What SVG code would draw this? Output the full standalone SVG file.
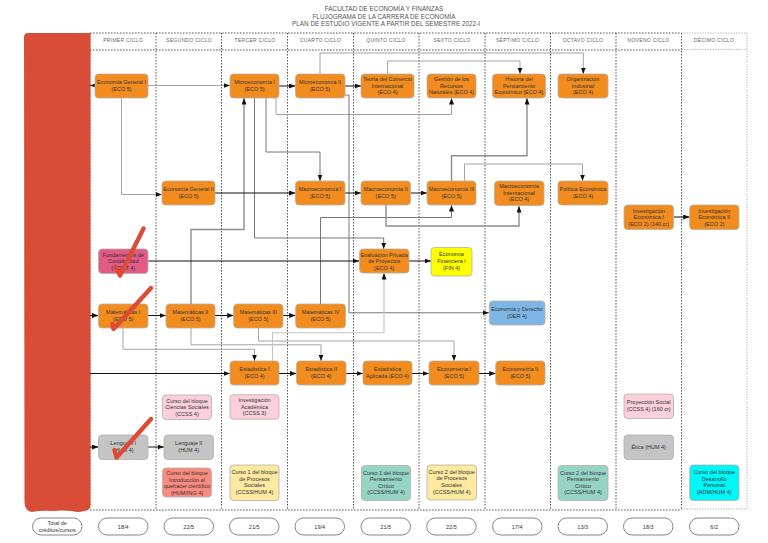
<svg xmlns="http://www.w3.org/2000/svg" width="768" height="543" viewBox="0 0 768 543">
<style>
text{font-family:"Liberation Sans",Arial,sans-serif;text-anchor:middle;fill:#333}
.t{font-size:5.5px}
.h{font-size:5px;letter-spacing:.3px;fill:#666}
.ti{font-size:6.4px;fill:#555}
rect{stroke:#b5b0a5;stroke-width:.8}
.o{fill:#f28c1e}.p{fill:#fbcfdc}.s{fill:#c4c4c4}.r{fill:#fb8a80}.y{fill:#fde9a0}.te{fill:#96d5c6}.c{fill:#00f7f7}.b{fill:#7db6e4}.f{fill:#ffff00}.m{fill:#e25a86}
.tot{fill:#fff;stroke:#666;stroke-width:.8}
.d{stroke:#333;stroke-width:.8;stroke-dasharray:1.6 1.4;fill:none}
.d2{stroke:#999;stroke-width:.8;stroke-dasharray:1.2 1.4;fill:none}
#connectors path{fill:none;marker-end:url(#a)}
.k{stroke:#111;stroke-width:1}
.a{stroke:#9a9a9a;stroke-width:.9}
.w{stroke:#8c8c8c;stroke-width:1.4}
.e{stroke:#666;stroke-width:.9}
.l{stroke:#c4c4c4;stroke-width:1.1}
.ck{fill:none;stroke:#dd4a36;stroke-width:4.4;stroke-linecap:round;stroke-linejoin:round}
</style>
<defs><marker id="a" markerUnits="userSpaceOnUse" markerWidth="7" markerHeight="6" refX="6.5" refY="2.5" orient="auto"><path d="M0 0L6.5 2.500L0 5Z" fill="#111"/></marker></defs>

<g id="title">
<text class="ti" x="384" y="11">FACULTAD DE ECONOMÍA Y FINANZAS</text>
<text class="ti" x="384" y="18.500">FLUJOGRAMA DE LA CARRERA DE ECONOMÍA</text>
<text class="ti" x="386" y="26">PLAN DE ESTUDIO VIGENTE A PARTIR DEL SEMESTRE 2022-I</text>
</g>

<g id="grid">
<path class="d" d="M90 33H681.500M90 50H681.500M90 510H681.500M90 33V510M156 33V510M221.500 33V510M287.500 33V510M353.500 33V510M419 33V510M485 33V510M550.500 33V510M616 33V510M681.500 33V510"/>
<path class="d2" d="M681.500 33H747V509H681.500M681.500 49.500H747"/>
<text class="h" x="123" y="42">PRIMER CICLO</text>
<text class="h" x="189" y="42">SEGUNDO CICLO</text>
<text class="h" x="255" y="42">TERCER CICLO</text>
<text class="h" x="320.500" y="42">CUARTO CICLO</text>
<text class="h" x="386" y="42">QUINTO CICLO</text>
<text class="h" x="452" y="42">SEXTO CICLO</text>
<text class="h" x="517.500" y="42">SÉPTIMO CICLO</text>
<text class="h" x="583" y="42">OCTAVO CICLO</text>
<text class="h" x="648.500" y="42">NOVENO CICLO</text>
<text class="h" x="714" y="42">DÉCIMO CICLO</text>
</g>

<path id="redaction" fill="#d94c38" d="M24 37Q24 33 28 33H90.500V505Q90 511 84 511Q78 513 72 511Q62 510 52 511Q42 510 32 512Q25 511 24.500 503Z"/>

<g id="connectors">
<path class="k" d="M95 85.500H90"/>
<path class="k" d="M90 315.500H98.500"/>
<path class="k" d="M90 447H98.500"/>
<path class="a" d="M148 85.500H230"/>
<path class="a" d="M121.500 98V194.500H162"/>
<path class="k" d="M279 86H295.500"/>
<path class="k" d="M345 86H361"/>
<path class="a" d="M320 74V53H583.300V74"/>
<path class="a" d="M387.500 74V61H520V74"/>
<path class="a" d="M276 98V114.500H451.500V98"/>
<path class="e" d="M266 98V152H320V181"/>
<path class="e" d="M254.500 98V238H383.700V249"/>
<path class="w" d="M191 304V229.500H244V98"/>
<path class="e" d="M345 95H349V312.800H489"/>
<path class="k" d="M215 193H295.500"/>
<path class="k" d="M345 193H361"/>
<path class="k" d="M410.500 193H427"/>
<path class="w" d="M451.500 181V155.700H527V98"/>
<path class="a" d="M464.500 181V164H582.500V181"/>
<path class="e" d="M320.500 304V217.500H451.500V205"/>
<path class="w" d="M386 205V226H519V206"/>
<path class="k" d="M148 261H359"/>
<path class="k" d="M409 261H431"/>
<path class="k" d="M148 315.500H166"/>
<path class="k" d="M215 315.500H233.700"/>
<path class="k" d="M283 315.500H295.700"/>
<path class="a" d="M123 328V349.300H254.500V361"/>
<path class="a" d="M191 328V344.800H321V361"/>
<path class="a" d="M258.500 328V341H454V361"/>
<path class="l" d="M272.500 361V332.700H384V273"/>
<path class="k" d="M90 373.500H230"/>
<path class="k" d="M279 373.500H296.500"/>
<path class="k" d="M346 373.500H363"/>
<path class="k" d="M412 373.500H429"/>
<path class="k" d="M479 373.500H495.700"/>
<path class="k" d="M148 447H164"/>
<path class="k" d="M673.500 217H689.700"/>
</g>

<g id="eco-general-1"><rect class="o" x="95" y="74" width="53" height="24" rx="3.500"/><text class="t" x="121.500" y="84">Economía General I</text><text class="t" x="121.500" y="90.500">(ECO 5)</text></g>
<g id="micro-1"><rect class="o" x="230" y="74" width="49" height="24" rx="3.500"/><text class="t" x="254.500" y="84">Microeconomía I</text><text class="t" x="254.500" y="90.500">(ECO 5)</text></g>
<g id="micro-2"><rect class="o" x="295.500" y="74" width="49.500" height="24" rx="3.500"/><text class="t" x="320" y="84">Microeconomía II</text><text class="t" x="320" y="90.500">(ECO 5)</text></g>
<g id="teoria-comercio"><rect class="o" x="361" y="74" width="53" height="24" rx="3.500"/><text class="t" x="387.500" y="81">Teoría del Comercio</text><text class="t" x="387.500" y="87.700">Internacional</text><text class="t" x="387.500" y="94.200">(ECO 4)</text></g>
<g id="gestion-recursos"><rect class="o" x="427" y="74" width="49" height="24" rx="3.500"/><text class="t" x="451.500" y="81">Gestión de los</text><text class="t" x="451.500" y="87.700">Recursos</text><text class="t" x="451.500" y="94.200">Naturales (ECO 4)</text></g>
<g id="historia-pensamiento"><rect class="o" x="492.500" y="74" width="53" height="24" rx="3.500"/><text class="t" x="519" y="81">Historia del</text><text class="t" x="519" y="87.700">Pensamiento</text><text class="t" x="519" y="94.200">Económico (ECO 4)</text></g>
<g id="organizacion-industrial"><rect class="o" x="558" y="74" width="50" height="24" rx="3.500"/><text class="t" x="583" y="81">Organización</text><text class="t" x="583" y="87.700">Industrial</text><text class="t" x="583" y="94.200">(ECO 4)</text></g>

<g id="eco-general-2"><rect class="o" x="162" y="181" width="53" height="24" rx="3.500"/><text class="t" x="188.500" y="191">Economía General II</text><text class="t" x="188.500" y="197.500">(ECO 5)</text></g>
<g id="macro-1"><rect class="o" x="295.500" y="181" width="49.500" height="24" rx="3.500"/><text class="t" x="320" y="191">Macroeconomía I</text><text class="t" x="320" y="197.500">(ECO 5)</text></g>
<g id="macro-2"><rect class="o" x="361" y="181" width="49.500" height="24" rx="3.500"/><text class="t" x="385.700" y="191">Macroeconomía II</text><text class="t" x="385.700" y="197.500">(ECO 5)</text></g>
<g id="macro-3"><rect class="o" x="427" y="181" width="49" height="24" rx="3.500"/><text class="t" x="451.500" y="191">Macroeconomía III</text><text class="t" x="451.500" y="197.500">(ECO 5)</text></g>
<g id="macro-internacional"><rect class="o" x="494.500" y="181" width="49.500" height="24.500" rx="3.500"/><text class="t" x="519" y="188">Macroeconomía</text><text class="t" x="519" y="194.500">Internacional</text><text class="t" x="519" y="201">(ECO 4)</text></g>
<g id="politica-economica"><rect class="o" x="558" y="181" width="50" height="24" rx="3.500"/><text class="t" x="583" y="191">Política Económica</text><text class="t" x="583" y="197.500">(ECO 4)</text></g>
<g id="investigacion-1"><rect class="o" x="624" y="205" width="49.500" height="24.500" rx="3.500"/><text class="t" x="648.700" y="212.500">Investigación</text><text class="t" x="648.700" y="219">Económica I</text><text class="t" x="648.700" y="225.500">(ECO 2) (140 cr)</text></g>
<g id="investigacion-2"><rect class="o" x="689.700" y="205" width="49.300" height="24.500" rx="3.500"/><text class="t" x="714.300" y="212.500">Investigación</text><text class="t" x="714.300" y="219">Económica II</text><text class="t" x="714.300" y="225.500">(ECO 2)</text></g>

<g id="fundamentos"><rect class="m" x="98.500" y="249" width="49.500" height="24.500" rx="3.500"/><text class="t" x="123.200" y="256.500">Fundamentos de</text><text class="t" x="123.200" y="263">Contabilidad</text><text class="t" x="123.200" y="269.500">(CONT 4)</text></g>
<g id="evaluacion-privada"><rect class="o" x="359.500" y="249" width="49.500" height="24" rx="3.500"/><text class="t" x="384.200" y="256.500">Evaluación Privada</text><text class="t" x="384.200" y="263">de Proyectos</text><text class="t" x="384.200" y="269.500">(ECO 4)</text></g>
<g id="economia-financiera"><rect class="f" x="431" y="247.500" width="41" height="28.500" rx="3.500"/><text class="t" x="451.500" y="256">Economía</text><text class="t" x="451.500" y="263">Financiera I</text><text class="t" x="451.500" y="269.500">(FIN 4)</text></g>

<g id="mate-1"><rect class="o" x="98.500" y="304" width="49.500" height="24" rx="3.500"/><text class="t" x="123.200" y="314">Matemáticas I</text><text class="t" x="123.200" y="320.500">(ECO 5)</text></g>
<g id="mate-2"><rect class="o" x="166" y="304" width="49" height="24" rx="3.500"/><text class="t" x="190.500" y="314">Matemáticas II</text><text class="t" x="190.500" y="320.500">(ECO 5)</text></g>
<g id="mate-3"><rect class="o" x="233.700" y="304" width="49.300" height="24" rx="3.500"/><text class="t" x="258.300" y="314">Matemáticas III</text><text class="t" x="258.300" y="320.500">(ECO 5)</text></g>
<g id="mate-4"><rect class="o" x="295.700" y="304" width="49.800" height="24" rx="3.500"/><text class="t" x="320.600" y="314">Matemáticas IV</text><text class="t" x="320.600" y="320.500">(ECO 5)</text></g>
<g id="economia-derecho"><rect class="b" x="489.300" y="301" width="55.700" height="24" rx="3.500"/><text class="t" x="517" y="311">Economía y Derecho</text><text class="t" x="517" y="317.500">(DER 4)</text></g>

<g id="estadistica-1"><rect class="o" x="230" y="361" width="49" height="24" rx="3.500"/><text class="t" x="254.500" y="371">Estadística I</text><text class="t" x="254.500" y="377.500">(ECO 4)</text></g>
<g id="estadistica-2"><rect class="o" x="296.500" y="361" width="49.500" height="24" rx="3.500"/><text class="t" x="321.200" y="371">Estadística II</text><text class="t" x="321.200" y="377.500">(ECO 4)</text></g>
<g id="estadistica-aplicada"><rect class="o" x="363" y="361" width="49" height="24" rx="3.500"/><text class="t" x="387.500" y="371">Estadística</text><text class="t" x="387.500" y="377.500">Aplicada (ECO 4)</text></g>
<g id="econometria-1"><rect class="o" x="429" y="361" width="50" height="24" rx="3.500"/><text class="t" x="454" y="371">Econometría I</text><text class="t" x="454" y="377.500">(ECO 5)</text></g>
<g id="econometria-2"><rect class="o" x="495.700" y="361" width="49.300" height="24" rx="3.500"/><text class="t" x="520.300" y="371">Econometría II</text><text class="t" x="520.300" y="377.500">(ECO 5)</text></g>

<g id="bloque-ciencias"><rect class="p" x="162.500" y="395" width="49" height="24.500" rx="3.500"/><text class="t" x="187" y="402.500">Curso del bloque</text><text class="t" x="187" y="409">Ciencias Sociales</text><text class="t" x="187" y="415.500">(CCSS 4)</text></g>
<g id="investigacion-academica"><rect class="p" x="230" y="394.700" width="49" height="24.500" rx="3.500"/><text class="t" x="254.500" y="402">Investigación</text><text class="t" x="254.500" y="408.500">Académica</text><text class="t" x="254.500" y="415">(CCSS 3)</text></g>
<g id="proyeccion-social"><rect class="p" x="624" y="394" width="49.500" height="24.500" rx="3.500"/><text class="t" x="648.700" y="404">Proyección Social</text><text class="t" x="648.700" y="410.500">(CCSS 4) (160 cr)</text></g>

<g id="lenguaje-1"><rect class="s" x="98.500" y="435" width="49.500" height="24.500" rx="3.500"/><text class="t" x="123.200" y="445">Lenguaje I</text><text class="t" x="123.200" y="451.500">(HUM 4)</text></g>
<g id="lenguaje-2"><rect class="s" x="164" y="435" width="49.500" height="24.500" rx="3.500"/><text class="t" x="188.700" y="445">Lenguaje II</text><text class="t" x="188.700" y="451.500">(HUM 4)</text></g>
<g id="etica"><rect class="s" x="624" y="435" width="49.500" height="24.500" rx="3.500"/><text class="t" x="648.700" y="449">Ética (HUM 4)</text></g>

<g id="bloque-quehacer"><rect class="r" x="162.500" y="468" width="49" height="29" rx="3.500"/><text class="t" x="187" y="475">Curso del bloque</text><text class="t" x="187" y="481.700">Introducción al</text><text class="t" x="187" y="488.300">quehacer científico</text><text class="t" x="187" y="494.500">(HUM/ING 4)</text></g>
<g id="bloque-procesos-1"><rect class="y" x="230" y="465" width="49" height="35.500" rx="3.500"/><text class="t" x="254.500" y="474">Curso 1 del bloque</text><text class="t" x="254.500" y="480.500">de Procesos</text><text class="t" x="254.500" y="487">Sociales</text><text class="t" x="254.500" y="493.500">(CCSS/HUM 4)</text></g>
<g id="bloque-pensamiento-1"><rect class="te" x="361.500" y="465.500" width="49" height="35" rx="3.500"/><text class="t" x="386" y="474.500">Curso 1 del bloque</text><text class="t" x="386" y="481">Pensamiento</text><text class="t" x="386" y="487.500">Crítico</text><text class="t" x="386" y="494">(CCSS/HUM 4)</text></g>
<g id="bloque-procesos-2"><rect class="y" x="427" y="465" width="49.500" height="35" rx="3.500"/><text class="t" x="451.700" y="473.500">Curso 2 del bloque</text><text class="t" x="451.700" y="480">de Procesos</text><text class="t" x="451.700" y="486.500">Sociales</text><text class="t" x="451.700" y="493.500">(CCSS/HUM 4)</text></g>
<g id="bloque-pensamiento-2"><rect class="te" x="558" y="465.500" width="50" height="35" rx="3.500"/><text class="t" x="583" y="474.500">Curso 2 del bloque</text><text class="t" x="583" y="481">Pensamiento</text><text class="t" x="583" y="487.500">Crítico</text><text class="t" x="583" y="494">(CCSS/HUM 4)</text></g>
<g id="bloque-desarrollo"><rect class="c" x="689.700" y="465" width="49.300" height="35.500" rx="3.500"/><text class="t" x="714.300" y="474">Curso del bloque</text><text class="t" x="714.300" y="480.500">Desarrollo</text><text class="t" x="714.300" y="487">Personal</text><text class="t" x="714.300" y="493.500">(ADM/HUM 4)</text></g>

<g id="totales">
<rect class="tot" x="32.500" y="518" width="49.500" height="17" rx="8.500"/><text class="t" x="57.200" y="524.500">Total de</text><text class="t" x="57.200" y="531.500">créditos/cursos</text>
<rect class="tot" x="98.500" y="518" width="49.500" height="17" rx="8.500"/><text class="t" x="123.200" y="528.500">18/4</text>
<rect class="tot" x="164" y="518" width="49.500" height="17" rx="8.500"/><text class="t" x="188.700" y="528.500">22/5</text>
<rect class="tot" x="229.500" y="518" width="49.500" height="17" rx="8.500"/><text class="t" x="254.200" y="528.500">21/5</text>
<rect class="tot" x="295" y="518" width="49.500" height="17" rx="8.500"/><text class="t" x="319.700" y="528.500">19/4</text>
<rect class="tot" x="361" y="518" width="49.500" height="17" rx="8.500"/><text class="t" x="385.700" y="528.500">21/5</text>
<rect class="tot" x="426.700" y="518" width="49.500" height="17" rx="8.500"/><text class="t" x="451.400" y="528.500">22/5</text>
<rect class="tot" x="492.500" y="518" width="49.500" height="17" rx="8.500"/><text class="t" x="517.200" y="528.500">17/4</text>
<rect class="tot" x="558" y="518" width="49.500" height="17" rx="8.500"/><text class="t" x="582.700" y="528.500">13/3</text>
<rect class="tot" x="623.500" y="518" width="49.500" height="17" rx="8.500"/><text class="t" x="648.200" y="528.500">18/3</text>
<rect class="tot" x="689.500" y="518" width="49.500" height="17" rx="8.500"/><text class="t" x="714.200" y="528.500">6/2</text>
</g>

<g id="marks">
<path class="ck" d="M115.500 267L120 275.500L143.500 228.500"/>
<path class="ck" d="M112.500 324L113.500 329L151 288"/>
<path class="ck" d="M114.500 450L116.500 457.500L151 419"/>
</g>
</svg>
